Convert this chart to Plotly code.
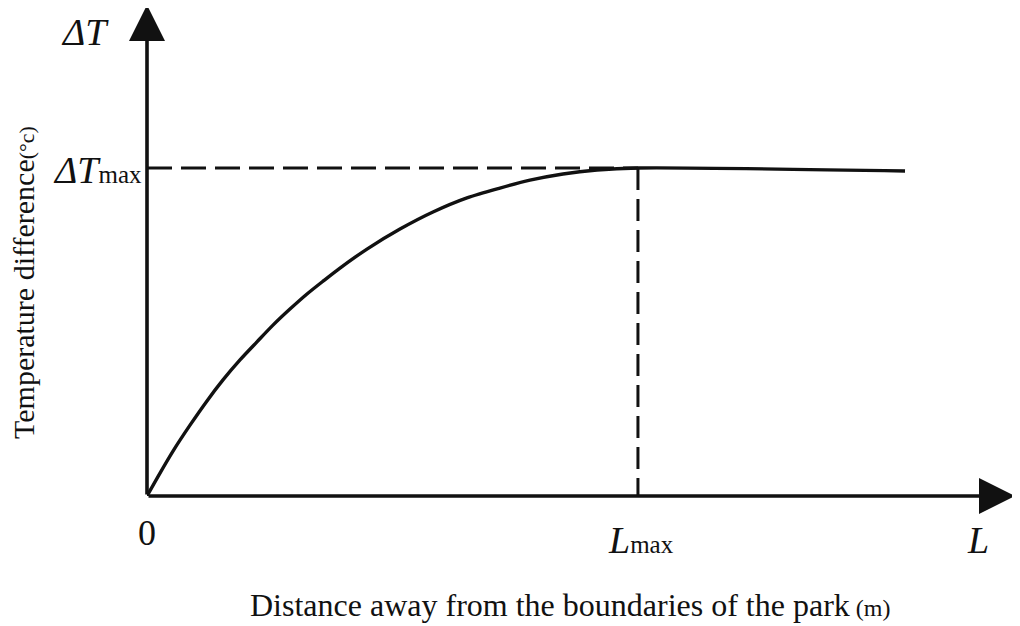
import plotly.graph_objects as go

# curve (L / Lmax, dT / dTmax)
dist = [0, 0.0265, 0.053, 0.0876, 0.1222, 0.1548, 0.1894, 0.224, 0.2566, 0.2912,
        0.3259, 0.3585, 0.3931, 0.4481, 0.5153, 0.5825, 0.6517, 0.7189, 0.78,
        0.8473, 0.9165, 1.0, 1.544]
temp_diff = [0, 0.070, 0.137, 0.216, 0.290, 0.354, 0.415, 0.470, 0.521, 0.570,
             0.616, 0.655, 0.695, 0.753, 0.814, 0.866, 0.909, 0.939, 0.963,
             0.982, 0.994, 1.0, 0.991]

L_MAX = 1.0
DT_MAX = 1.0
X_END = 1.768
Y_END = 1.497

SERIF = "Liberation Serif, Times New Roman, serif"
INK = "#111111"

fig = go.Figure()

# dashed guides
fig.add_trace(go.Scatter(x=[0, L_MAX], y=[DT_MAX, DT_MAX], mode="lines",
                         line=dict(color=INK, width=3, dash="25px,9px"),
                         hoverinfo="skip"))
fig.add_trace(go.Scatter(x=[L_MAX, L_MAX], y=[DT_MAX, 0], mode="lines",
                         line=dict(color=INK, width=3, dash="22px,9px"),
                         hoverinfo="skip"))

# the curve
fig.add_trace(go.Scatter(x=dist, y=temp_diff, mode="lines",
                         line=dict(color=INK, width=3.4, shape="spline", smoothing=0.8)))

# axes with arrows
for tip in [(X_END, 0), (0, Y_END)]:
    fig.add_annotation(x=tip[0], y=tip[1], ax=0, ay=0, xref="x", yref="y",
                       axref="x", ayref="y", showarrow=True, arrowhead=2,
                       arrowsize=2.0, arrowwidth=3.6, arrowcolor=INK, text="")


def label(x, y, text, size=38, **kw):
    opts = dict(xanchor="center", yanchor="middle")
    opts.update(kw)
    fig.add_annotation(x=x, y=y, xref="paper", yref="paper", text=text,
                       showarrow=False, font=dict(family=SERIF, size=size, color=INK),
                       **opts)


label(-0.0714, 0.951, "<i>ΔT</i>")
label(-0.003, 0.668, "<i>ΔT</i><span style='font-size:25px'>max</span>", xanchor="right")
label(0, -0.0758, "0", size=36)
label(0.569, -0.090, "<i>L</i><span style='font-size:25px'>max</span>")
label(0.957, -0.090, "<i>L</i>")
label(0.487, -0.223,
      "Distance away from the boundaries of the park<span style='font-size:24px'> (m)</span>",
      size=32)
label(-0.1429, 0.4385, "Temperature difference<span style='font-size:22px'>(°c)</span>",
      size=30, textangle=-90)

# plot area placed to sit where the reference axes are (page body adds 8px offset)
fig.update_xaxes(range=[0, X_END], visible=False)
fig.update_yaxes(range=[0, 1.488], visible=False)
fig.update_layout(width=1020, height=626, showlegend=False,
                  margin=dict(l=139, r=13, t=0, b=138),
                  plot_bgcolor="white", paper_bgcolor="white")

fig.write_html("out.html")
